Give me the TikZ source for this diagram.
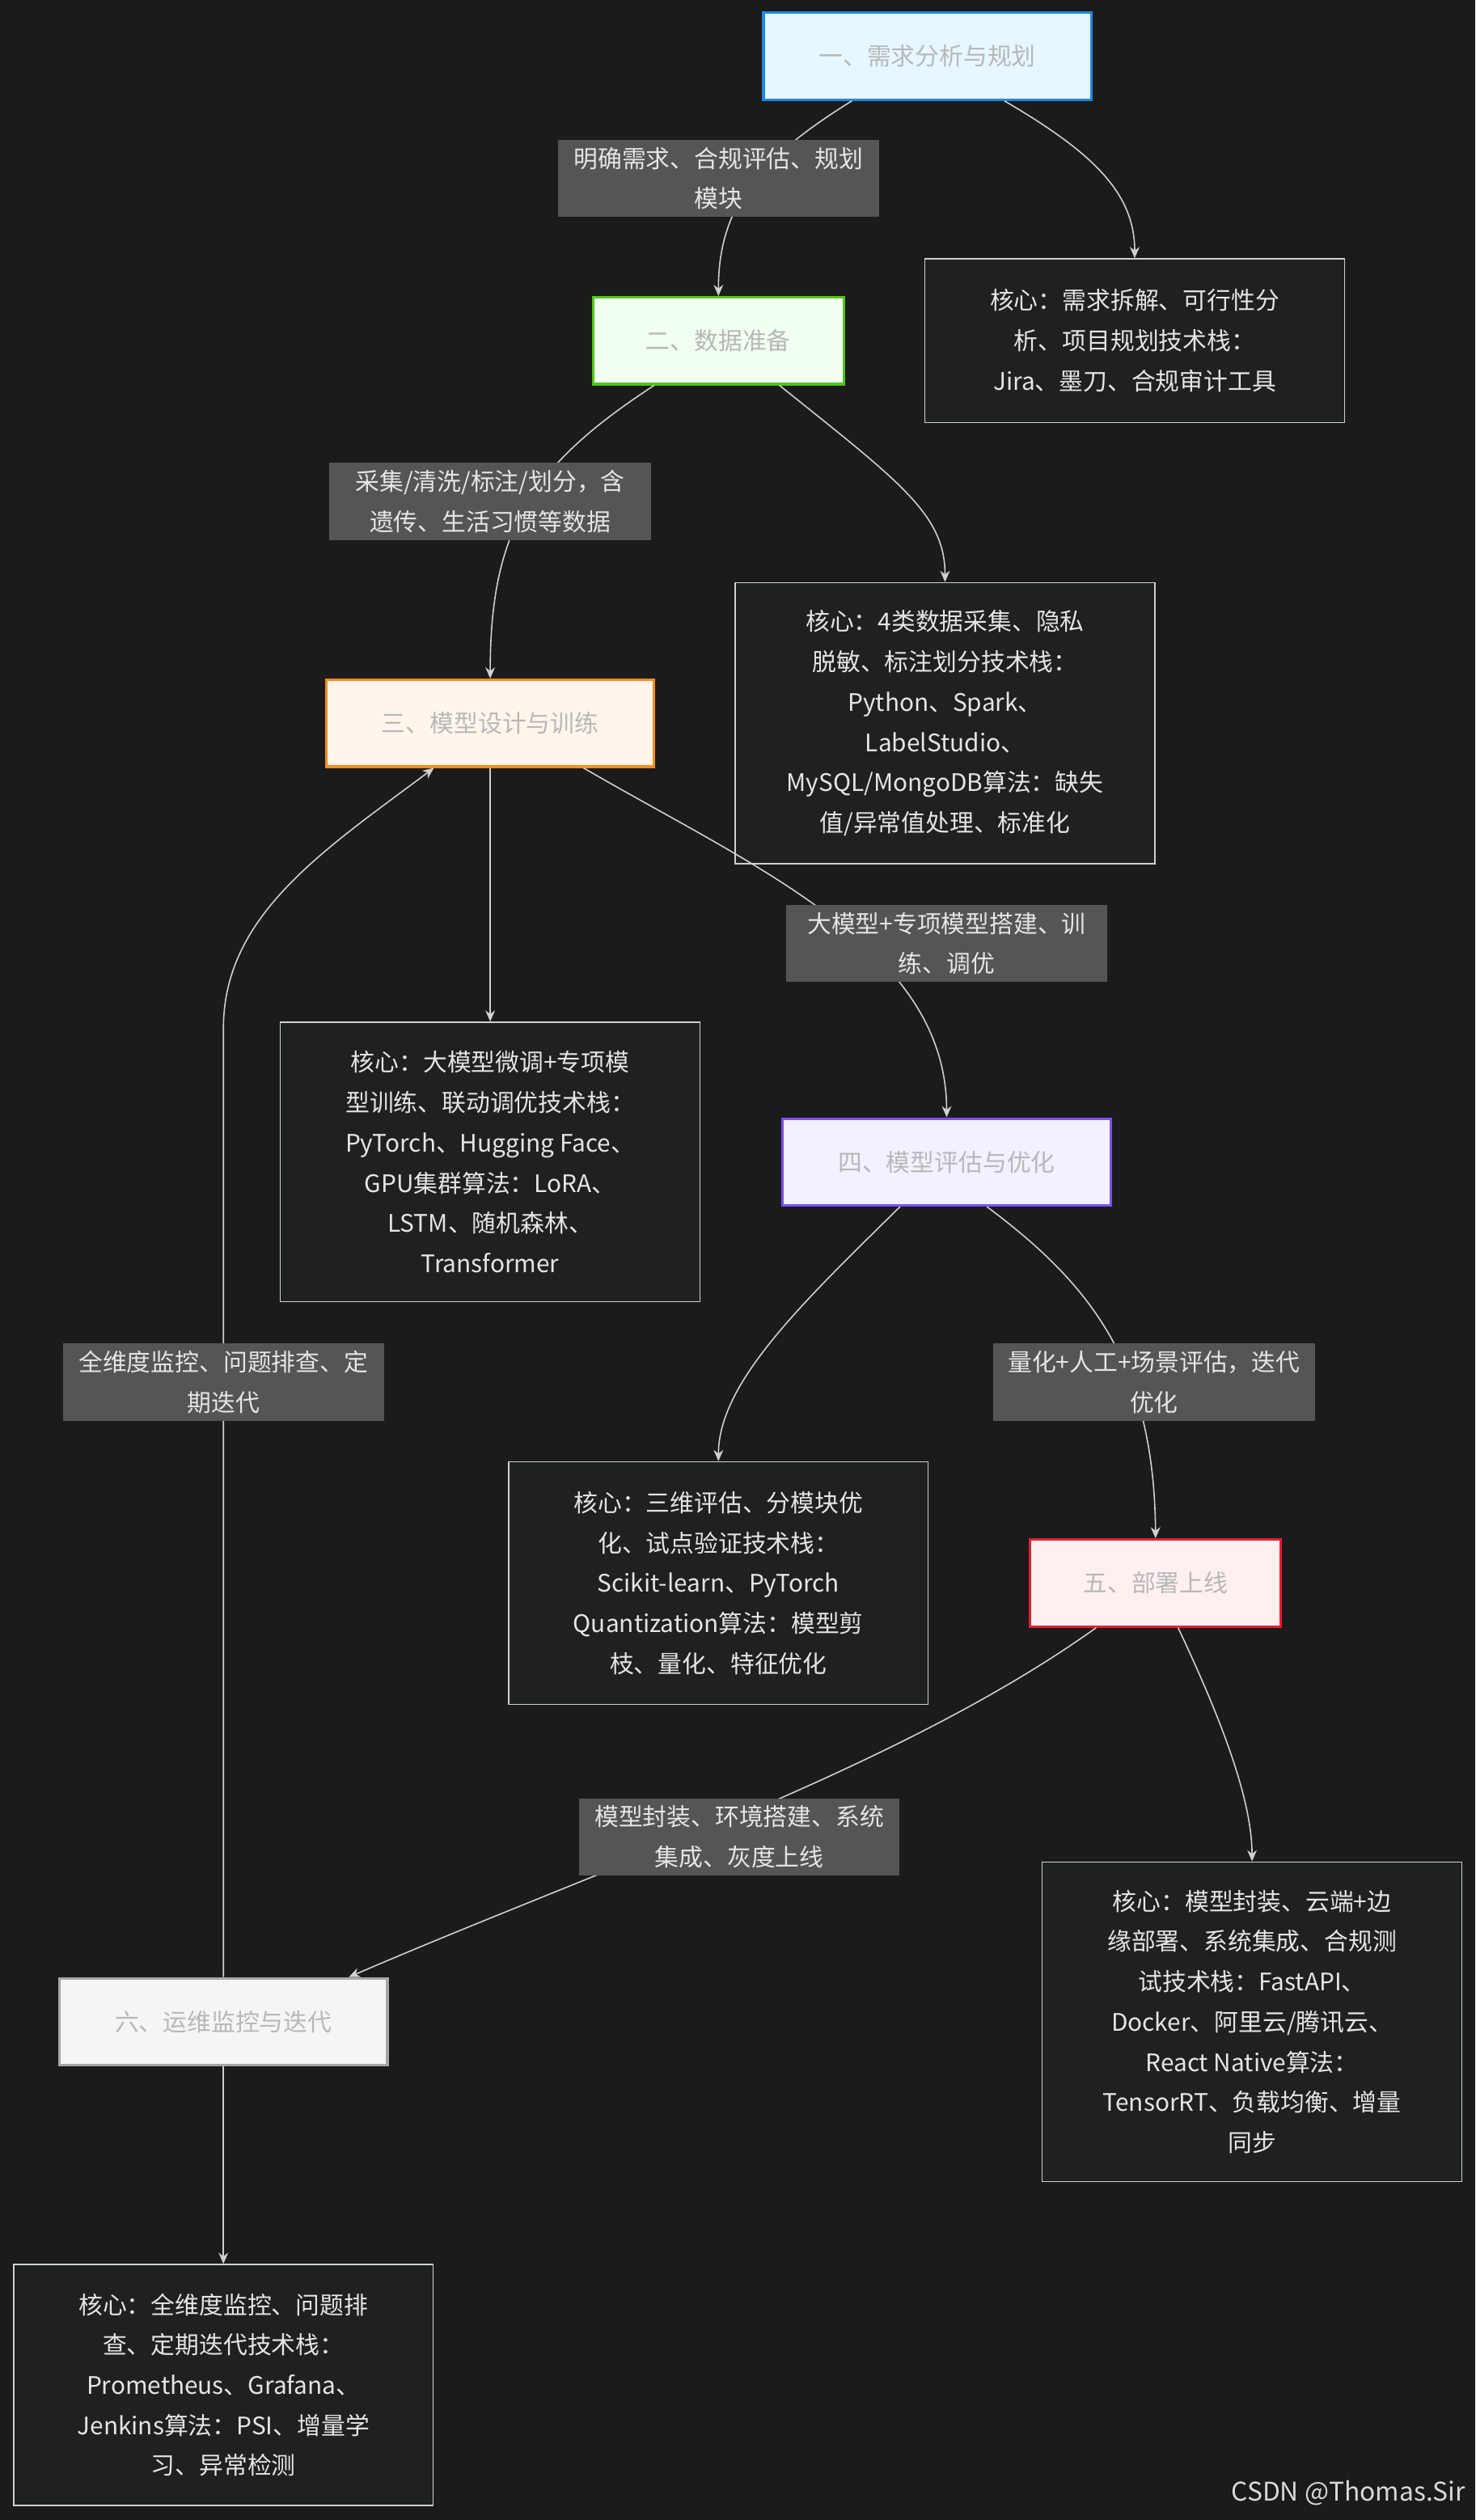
\documentclass[tikz,border=0pt]{standalone}
\usepackage{fontspec}
\setmainfont{Noto Sans CJK SC}
\usetikzlibrary{arrows.meta}
\definecolor{bg}{HTML}{1B1B1B}
\definecolor{cbox}{HTML}{1F2020}
\definecolor{lbl}{HTML}{555555}
\definecolor{ln}{HTML}{D0D0D0}
\definecolor{ftxt}{HTML}{B8B8B8}
\begin{document}
\begin{tikzpicture}[x=1pt,y=-1pt,
  every node/.style={font=\fontsize{15}{25}\selectfont, inner sep=0pt, align=center},
  stage/.style={draw, line width=1.6pt, minimum width=204pt, minimum height=54pt, text=ftxt},
  core/.style={draw=ln, line width=0.7pt, fill=cbox, text=white!90!black, minimum width=261pt},
  lab/.style={fill=lbl, text=white!90!black, minimum width=200pt, minimum height=48pt},
  edge/.style={draw=ln, line width=0.8pt, -{Stealth[length=7pt,width=6pt]}}]
\fill[bg] (0,0) rectangle (918,1568);
\useasboundingbox (0,0) rectangle (918,1568);

\node[stage, fill={rgb,255:red,230;green,247;blue,255}, draw={rgb,255:red,30;green,136;blue,229}] (n1) at (577,35) {一、需求分析与规划};
\node[stage, fill={rgb,255:red,240;green,255;blue,240}, draw={rgb,255:red,82;green,196;blue,26}, minimum width=156pt] (n2) at (447,212) {二、数据准备};
\node[stage, fill={rgb,255:red,255;green,245;blue,235}, draw={rgb,255:red,250;green,140;blue,22}] (n3) at (305,450) {三、模型设计与训练};
\node[stage, fill={rgb,255:red,243;green,240;blue,255}, draw={rgb,255:red,124;green,77;blue,255}] (n4) at (589,723) {四、模型评估与优化};
\node[stage, fill={rgb,255:red,255;green,240;blue,240}, draw={rgb,255:red,230;green,30;blue,50}, minimum width=156pt] (n5) at (719,985) {五、部署上线};
\node[stage, fill=gray!8, draw=gray!70] (n6) at (139,1258) {六、运维监控与迭代};

\node[core, minimum height=102pt] (c1) at (706,212) {核心：需求拆解、可行性分\\析、项目规划技术栈：\\Jira、墨刀、合规审计工具};
\node[core, minimum height=175pt] (c2) at (588,450) {核心：4类数据采集、隐私\\脱敏、标注划分技术栈：\\Python、Spark、\\LabelStudio、\\MySQL/MongoDB算法：缺失\\值/异常值处理、标准化};
\node[core, minimum height=174pt] (c3) at (305,723) {核心：大模型微调+专项模\\型训练、联动调优技术栈：\\PyTorch、Hugging Face、\\GPU集群算法：LoRA、\\LSTM、随机森林、\\Transformer};
\node[core, minimum height=151pt] (c4) at (447,985) {核心：三维评估、分模块优\\化、试点验证技术栈：\\Scikit-learn、PyTorch\\Quantization算法：模型剪\\枝、量化、特征优化};
\node[core, minimum height=199pt] (c5) at (779,1258) {核心：模型封装、云端+边\\缘部署、系统集成、合规测\\试技术栈：FastAPI、\\Docker、阿里云/腾讯云、\\React Native算法：\\TensorRT、负载均衡、增量\\同步};
\node[core, minimum height=150pt] (c6) at (139,1484) {核心：全维度监控、问题排\\查、定期迭代技术栈：\\Prometheus、Grafana、\\Jenkins算法：PSI、增量学\\习、异常检测};

\draw[edge] ([xshift=-47pt]n1.south) .. controls (470,100) and (447,130) .. (n2.north);
\draw[edge] ([xshift=48pt]n1.south) .. controls (680,95) and (706,120) .. (c1.north);
\draw[edge] ([xshift=-40pt]n2.south) .. controls (330,290) and (305,330) .. (n3.north);
\draw[edge] ([xshift=38pt]n2.south) .. controls (560,300) and (588,320) .. (c2.north);
\draw[edge] (n3.south) -- (c3.north);
\draw[edge] ([xshift=58pt]n3.south) .. controls (470,540) and (589,590) .. (n4.north);
\draw[edge] ([xshift=-29pt]n4.south) .. controls (500,810) and (447,860) .. (c4.north);
\draw[edge] ([xshift=25pt]n4.south) .. controls (680,800) and (718,850) .. (n5.north);
\draw[edge] ([xshift=-37pt]n5.south) .. controls (560,1100) and (380,1160) .. ([xshift=78pt]n6.north);
\draw[edge] ([xshift=14pt]n5.south) .. controls (760,1070) and (779,1120) .. (c5.north);
\draw[edge] (n6.south) -- (c6.north);
\draw[edge] (n6.north) -- (139,640) .. controls (139,570) and (200,530) .. ([xshift=-35pt]n3.south);

\node[lab] (l1) at (447,111) {明确需求、合规评估、规划\\模块};
\node[lab] (l2) at (305,312) {采集/清洗/标注/划分，含\\遗传、生活习惯等数据};
\node[lab] (l3) at (589,587) {大模型+专项模型搭建、训\\练、调优};
\node[lab] (l4) at (718,860) {量化+人工+场景评估，迭代\\优化};
\node[lab, minimum width=199pt] (l5) at (460,1143) {模型封装、环境搭建、系统\\集成、灰度上线};
\node[lab] (l6) at (139,860) {全维度监控、问题排查、定\\期迭代};

\node[text=white!85!black, font=\fontsize{16}{20}\selectfont] (wm) at (839,1551) {CSDN @Thomas.Sir};
\end{tikzpicture}
\end{document}
